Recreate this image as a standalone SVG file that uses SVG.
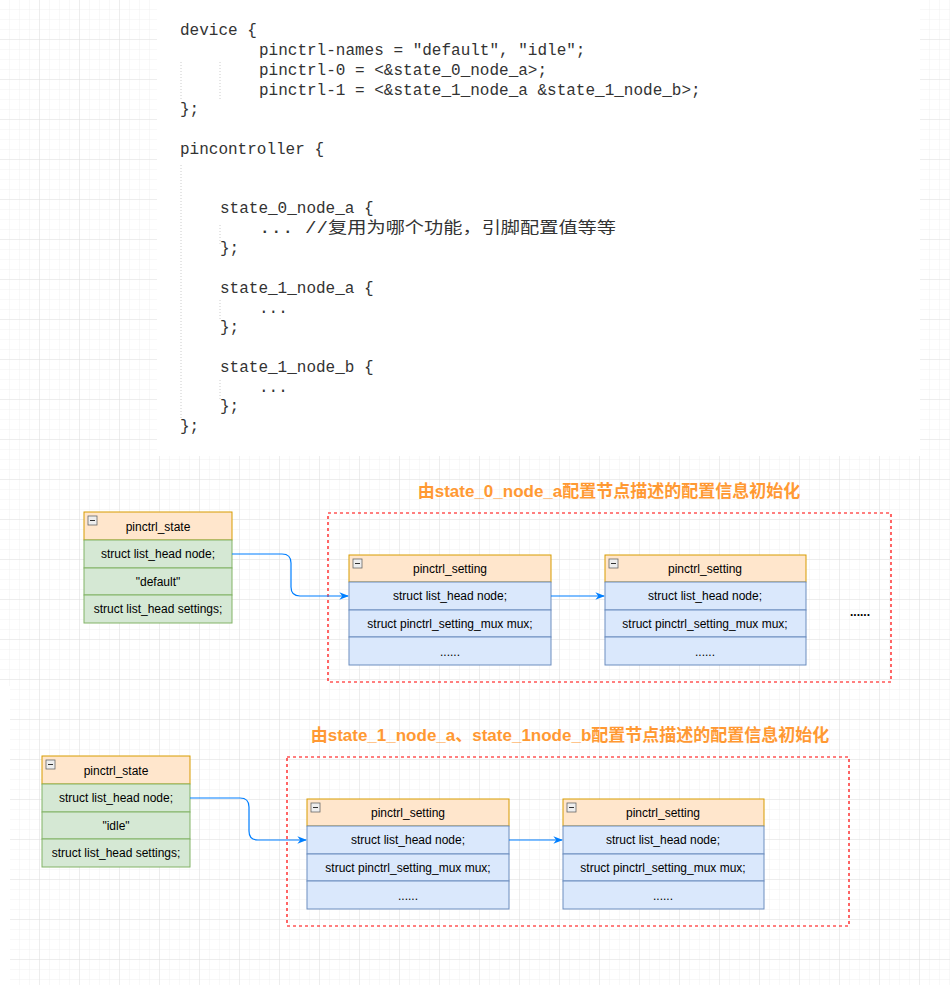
<svg xmlns="http://www.w3.org/2000/svg" width="950" height="1000" viewBox="0 0 950 1000">
<defs>
<pattern id="g" width="10" height="10" patternUnits="userSpaceOnUse"><path d="M10 0V10H0" fill="none" stroke="#f0f0f0" stroke-width="1"/></pattern>
<pattern id="G" width="40" height="40" patternUnits="userSpaceOnUse"><rect width="40" height="40" fill="url(#g)"/><path d="M40 0V40H0" fill="none" stroke="#e2e2e2" stroke-width="1"/></pattern>
<marker id="ar" viewBox="0 0 10 10" refX="9" refY="5" markerWidth="8" markerHeight="8" orient="auto"><path d="M0 1L10 5L0 9L3 5z" fill="#007FFF"/></marker>
<g id="minus"><rect x="0" y="0" width="9" height="9" fill="#eee" stroke="#666" stroke-width="0.8"/><path d="M2 4.5H7" stroke="#333" stroke-width="1"/></g>
</defs>
<style>
.code{font-family:"Liberation Mono","Noto Sans CJK SC",monospace;font-size:16px;fill:#333}
.t{font-family:"Liberation Sans",Arial,sans-serif;font-size:12px;fill:#000;text-anchor:middle}
.ttl{font-family:"Liberation Sans","Noto Sans CJK SC",sans-serif;font-size:17px;font-weight:bold;fill:#FF9933;text-anchor:middle}
.hd{fill:#ffe6cc;stroke:#d79b00}
.gr{fill:#d5e8d4;stroke:#82b366}
.bl{fill:#dae8fc;stroke:#6c8ebf}
.red{fill:none;stroke:#ff0000;stroke-dasharray:3 3;stroke-width:1.2}
.guide{stroke:#ccc;stroke-dasharray:1 2}
.con{fill:none;stroke:#007FFF;stroke-width:1.2}
</style>
<rect width="950" height="1000" fill="#fff"/>
<rect width="950" height="1000" fill="url(#G)"/>
<rect x="0" y="686" width="10" height="314" fill="#fff"/>
<rect x="0" y="985" width="950" height="15" fill="#fff"/>
<rect x="157" y="0" width="763" height="456" fill="#fff"/>
<g id="code">
<path class="guide" d="M181 62V100M220 62V100M181 165V420M220 225V245M220 300V320M220 380V400"/>
<text class="code" x="180" y="35">device {</text>
<text class="code" x="259" y="55">pinctrl-names = "default", "idle";</text>
<text class="code" x="259" y="75">pinctrl-0 = &lt;&amp;state_0_node_a&gt;;</text>
<text class="code" x="259" y="95">pinctrl-1 = &lt;&amp;state_1_node_a &amp;state_1_node_b&gt;;</text>
<text class="code" x="180" y="114">};</text>
<text class="code" x="180" y="154">pincontroller {</text>
<text class="code" x="220" y="213">state_0_node_a {</text>
<text class="code" x="259" y="233" textLength="357" lengthAdjust="spacingAndGlyphs">... //复用为哪个功能，引脚配置值等等</text>
<text class="code" x="220" y="253">};</text>
<text class="code" x="220" y="293">state_1_node_a {</text>
<text class="code" x="259" y="313">...</text>
<text class="code" x="220" y="332">};</text>
<text class="code" x="220" y="372">state_1_node_b {</text>
<text class="code" x="259" y="392">...</text>
<text class="code" x="220" y="411">};</text>
<text class="code" x="180" y="431">};</text>
</g>
<text class="ttl" x="609" y="497">由state_0_node_a配置节点描述的配置信息初始化</text>
<rect class="red" x="328" y="513" width="563" height="169"/>
<g id="state0">
<rect class="hd" x="84" y="512" width="148" height="28"/><use href="#minus" x="88" y="516"/>
<text class="t" x="158" y="531">pinctrl_state</text>
<rect class="gr" x="84" y="540" width="148" height="28"/><text class="t" x="158" y="558">struct list_head node;</text>
<rect class="gr" x="84" y="568" width="148" height="27"/><text class="t" x="158" y="586">"default"</text>
<rect class="gr" x="84" y="595" width="148" height="28"/><text class="t" x="158" y="613">struct list_head settings;</text>
</g>
<g id="set0a">
<rect class="hd" x="349" y="555" width="202" height="27"/><use href="#minus" x="353" y="559"/>
<text class="t" x="450" y="573">pinctrl_setting</text>
<rect class="bl" x="349" y="582" width="202" height="28"/><text class="t" x="450" y="600">struct list_head node;</text>
<rect class="bl" x="349" y="610" width="202" height="27"/><text class="t" x="450" y="628">struct pinctrl_setting_mux mux;</text>
<rect class="bl" x="349" y="637" width="202" height="28"/><text class="t" x="450" y="656">......</text>
</g>
<g id="set0b">
<rect class="hd" x="605" y="555" width="201" height="27"/><use href="#minus" x="609" y="559"/>
<text class="t" x="705" y="573">pinctrl_setting</text>
<rect class="bl" x="605" y="582" width="201" height="28"/><text class="t" x="705" y="600">struct list_head node;</text>
<rect class="bl" x="605" y="610" width="201" height="27"/><text class="t" x="705" y="628">struct pinctrl_setting_mux mux;</text>
<rect class="bl" x="605" y="637" width="201" height="28"/><text class="t" x="705" y="656">......</text>
</g>
<text class="t" x="860" y="616" style="font-weight:bold">......</text>
<text class="ttl" x="570" y="741">由state_1_node_a、state_1node_b配置节点描述的配置信息初始化</text>
<rect class="red" x="287" y="757" width="562" height="169"/>
<g id="state1">
<rect class="hd" x="42" y="756" width="148" height="28"/><use href="#minus" x="46" y="760"/>
<text class="t" x="116" y="775">pinctrl_state</text>
<rect class="gr" x="42" y="784" width="148" height="28"/><text class="t" x="116" y="802">struct list_head node;</text>
<rect class="gr" x="42" y="812" width="148" height="27"/><text class="t" x="116" y="830">"idle"</text>
<rect class="gr" x="42" y="839" width="148" height="28"/><text class="t" x="116" y="857">struct list_head settings;</text>
</g>
<g id="set1a">
<rect class="hd" x="307" y="799" width="202" height="27"/><use href="#minus" x="311" y="803"/>
<text class="t" x="408" y="817">pinctrl_setting</text>
<rect class="bl" x="307" y="826" width="202" height="28"/><text class="t" x="408" y="844">struct list_head node;</text>
<rect class="bl" x="307" y="854" width="202" height="27"/><text class="t" x="408" y="872">struct pinctrl_setting_mux mux;</text>
<rect class="bl" x="307" y="881" width="202" height="28"/><text class="t" x="408" y="900">......</text>
</g>
<g id="set1b">
<rect class="hd" x="563" y="799" width="201" height="27"/><use href="#minus" x="567" y="803"/>
<text class="t" x="663" y="817">pinctrl_setting</text>
<rect class="bl" x="563" y="826" width="201" height="28"/><text class="t" x="663" y="844">struct list_head node;</text>
<rect class="bl" x="563" y="854" width="201" height="27"/><text class="t" x="663" y="872">struct pinctrl_setting_mux mux;</text>
<rect class="bl" x="563" y="881" width="201" height="28"/><text class="t" x="663" y="900">......</text>
</g>
<g id="connectors">
<path class="con" d="M232 554H282Q291 554 291 563V587Q291 596 300 596H348" marker-end="url(#ar)"/>
<path class="con" d="M551 596H604" marker-end="url(#ar)"/>
<path class="con" d="M190 798H240Q249 798 249 807V831Q249 840 258 840H306" marker-end="url(#ar)"/>
<path class="con" d="M509 840H562" marker-end="url(#ar)"/>
</g>
</svg>
